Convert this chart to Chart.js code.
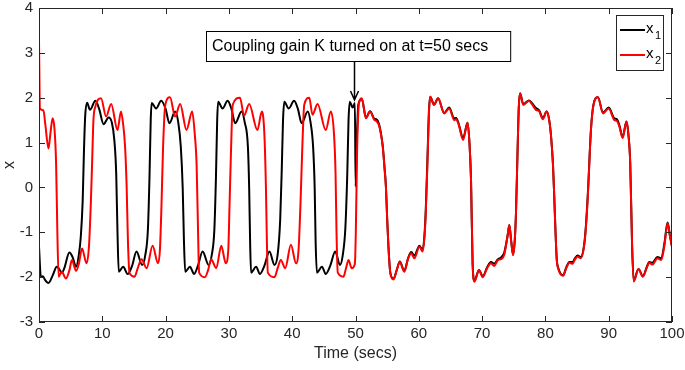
<!DOCTYPE html>
<html>
<head>
<meta charset="utf-8">
<script src="https://cdn.jsdelivr.net/npm/chart.js@4.4.1/dist/chart.umd.min.js"></script>
<style>
html, body { margin: 0; padding: 0; background: #fff; }
#wrap { width: 685px; height: 370px; }
</style>
</head>
<body>
<div id="wrap"><canvas id="chart" width="685" height="370"></canvas></div>
<script>
// time (secs) and state values
var t1 = [0, 0.3, 0.6, 0.9, 1.5, 2.2, 2.8, 3.2, 3.6, 4.0, 4.8, 5.3, 5.85, 6.3, 6.6, 6.9, 7.1, 7.3, 7.6, 8.05, 8.9, 9.5, 10.2, 11.0, 11.5, 11.9, 12.2, 12.4, 12.6,
  13.3, 14.0, 14.7, 15.4, 16.3, 16.8, 17.2, 17.45, 17.65, 17.8, 18.5, 19.3, 20.0, 20.6, 21.5, 22.0, 22.4, 22.7, 22.9, 23.1,
  23.85, 24.5, 25.1, 25.85, 26.8, 27.3, 27.7, 27.95, 28.15, 28.3, 29.0, 29.8, 30.4, 31.0, 32.0, 32.5, 33.0, 33.2, 33.35, 33.5,
  34.3, 34.9, 35.6, 36.4, 37.2, 37.7, 38.1, 38.35, 38.55, 38.75, 39.45, 40.3, 40.9, 41.5, 42.45, 42.9, 43.3, 43.55, 43.7, 43.9,
  44.7, 45.3, 46.0, 46.8, 47.55, 48.0, 48.4, 48.7, 48.9, 49.1, 49.55, 49.9, 50.02, 50.2, 50.45,
  51.0, 51.65, 52.3, 53.0, 53.3, 53.7, 54.0, 54.3, 54.6, 54.8, 55.0, 55.2, 55.5, 56.0, 56.5, 57.0, 57.7, 58.3, 58.8, 59.3, 60.1, 60.6, 60.9,
  61.1, 61.4, 61.6, 61.8, 62.4, 63.05, 64.0, 64.8, 65.6, 65.9, 66.3, 67.0, 67.7, 68.0, 68.25, 68.5, 68.8, 69.5, 70.1, 70.8, 71.4, 71.9,
  72.5, 73.0, 73.5, 74.0, 74.3, 74.6, 74.9, 75.15, 75.35, 75.6, 75.8, 76.0, 76.5, 77.4, 77.9, 78.5, 79.0, 79.6, 80.2, 80.6, 80.9, 81.2,
  81.4, 81.6, 81.8, 82.0, 82.8, 83.3, 83.8, 84.3, 84.7, 85.1, 85.6, 86.1, 86.4, 86.7, 87.2, 87.6, 88.3, 89.1, 90.0, 90.9, 91.3, 91.7,
  92.2, 92.8, 93.1, 93.4, 93.7, 93.95, 94.7, 95.4, 96.0, 96.4, 96.9, 97.7, 98.3, 98.8, 99.3, 99.7, 100];
var x1 = [-1.32, -2.0, -1.98, -2.05, -2.13, -1.95, -1.77, -1.82, -1.9, -1.8, -1.45, -1.55, -1.77, -1.5, -1.1, -0.3, 0.8, 1.6, 1.89, 1.73, 1.93, 1.75, 1.41, 1.56, 1.45, 1.06, 0.3, -1.0, -1.88,
  -1.77, -1.93, -1.75, -1.43, -1.73, -1.5, -0.95, 0.2, 1.5, 1.88, 1.76, 1.93, 1.75, 1.43, 1.69, 1.45, 0.91, 0.0, -1.2, -1.88,
  -1.77, -1.93, -1.75, -1.43, -1.73, -1.5, -0.95, 0.2, 1.5, 1.91, 1.76, 1.93, 1.75, 1.43, 1.69, 1.45, 0.91, 0.0, -1.2, -1.9,
  -1.77, -1.93, -1.75, -1.43, -1.73, -1.5, -0.73, 0.4, 1.5, 1.91, 1.76, 1.93, 1.75, 1.43, 1.69, 1.45, 0.91, 0.0, -1.2, -1.9,
  -1.77, -1.93, -1.75, -1.43, -1.73, -1.5, -0.9, 0.3, 1.5, 1.91, 1.78, 1.88, 0.02, 1.0, 1.85,
  1.97, 1.56, 1.70, 1.53, 1.52, 1.42, 1.22, 0.93, 0.42, 0.04, -0.68, -1.30, -1.90, -2.04, -1.85, -1.65, -1.86, -1.58, -1.44, -1.52, -1.30, -1.40, -1.05,
  -0.5, 0.8, 1.7, 2.02, 1.85, 1.99, 1.66, 1.78, 1.54, 1.55, 1.42, 1.10, 1.44, 1.0, 0.17, -1.69, -2.08, -1.84, -1.98, -1.78, -1.66, -1.70,
  -1.60, -1.56, -1.45, -1.1, -0.84, -1.2, -1.50, -1.2, -0.58, 0.8, 1.8, 2.10, 1.86, 1.94, 1.88, 1.77, 1.72, 1.55, 1.69, 1.5, 1.13, 0.5,
  -0.21, -1.0, -1.62, -1.78, -1.96, -1.78, -1.66, -1.66, -1.57, -1.52, -1.55, -1.30, -0.85, -0.15, 1.3, 1.85, 2.01, 1.67, 1.78, 1.54, 1.52, 1.38,
  1.12, 1.47, 1.2, 0.54, -1.32, -2.08, -1.82, -1.98, -1.78, -1.66, -1.68, -1.55, -1.58, -1.25, -0.78, -1.1, -1.32];

var t2 = [0, 0.15, 0.7, 1.0, 1.5, 1.8, 2.15, 2.45, 2.7, 2.9, 3.1, 3.6, 4.25, 4.8, 5.2, 5.85, 6.3, 6.8, 7.5, 7.9, 8.2, 8.4, 8.6, 8.9, 9.8, 10.6, 11.4, 12.4, 12.95, 13.3, 13.6, 13.85, 14.05, 14.3,
  15.1, 15.6, 16.2, 17.0, 17.95, 18.8, 19.1, 19.35, 19.6, 19.95, 20.7, 21.5, 22.3, 23.3, 24.2, 24.6, 24.9, 25.1, 25.3,
  26.2, 26.7, 27.2, 28.0, 28.8, 29.5, 29.9, 30.1, 30.35, 30.6, 31.75, 32.4, 33.2, 34.5, 35.2, 35.6, 35.85, 36.0, 36.15,
  37.2, 37.7, 38.2, 38.9, 39.8, 40.6, 41.0, 41.3, 41.6, 41.9, 42.7, 43.2, 44.0, 45.3, 46.1, 46.6, 46.85, 47.0, 47.2,
  48.1, 48.5, 48.9, 49.4, 49.9, 50.05, 50.25, 50.45, 50.6,
  51.0, 51.65, 52.3, 53.0, 53.3, 53.7, 54.0, 54.3, 54.6, 54.8, 55.0, 55.2, 55.5, 56.0, 56.5, 57.0, 57.7, 58.3, 58.8, 59.3, 60.1, 60.6, 60.9,
  61.1, 61.4, 61.6, 61.8, 62.4, 63.05, 64.0, 64.8, 65.6, 65.9, 66.3, 67.0, 67.7, 68.0, 68.25, 68.5, 68.8, 69.5, 70.1, 70.8, 71.4, 71.9,
  72.5, 73.0, 73.5, 74.0, 74.3, 74.6, 74.9, 75.15, 75.35, 75.6, 75.8, 76.0, 76.5, 77.4, 77.9, 78.5, 79.0, 79.6, 80.2, 80.6, 80.9, 81.2,
  81.4, 81.6, 81.8, 82.0, 82.8, 83.3, 83.8, 84.3, 84.7, 85.1, 85.6, 86.1, 86.4, 86.7, 87.2, 87.6, 88.3, 89.1, 90.0, 90.9, 91.3, 91.7,
  92.2, 92.8, 93.1, 93.4, 93.7, 93.95, 94.7, 95.4, 96.0, 96.4, 96.9, 97.7, 98.3, 98.8, 99.3, 99.7, 100];
var x2 = [3.29, 1.76, 1.72, 1.4, 0.87, 1.2, 1.54, 1.3, 0.54, -1.0, -1.99, -1.88, -2.03, -1.85, -1.62, -1.86, -1.7, -1.36, -1.69, -1.3, -0.3, 0.6, 1.5, 1.8, 1.99, 1.58, 1.86, 1.28, 1.69, 1.4, 0.9, 0.0, -1.2, -1.91,
  -1.99, -1.8, -1.6, -1.8, -1.3, -1.69, -1.4, -0.4, 0.9, 1.84, 2.01, 1.58, 1.86, 1.28, 1.69, 1.2, 0.5, -0.8, -1.9,
  -2.0, -1.85, -1.6, -1.8, -1.3, -1.69, -1.4, -0.4, 0.9, 1.84, 2.0, 1.6, 1.86, 1.28, 1.69, 1.2, 0.0, -1.2, -1.9,
  -2.0, -1.8, -1.62, -1.8, -1.28, -1.69, -1.4, -0.4, 0.9, 1.84, 2.0, 1.62, 1.86, 1.28, 1.69, 1.2, 0.3, -1.0, -1.9,
  -1.99, -1.8, -1.62, -1.8, -1.7, -1.0, 0.8, 1.7, 1.91,
  1.99, 1.54, 1.69, 1.50, 1.48, 1.39, 1.2, 0.91, 0.4, 0.02, -0.7, -1.32, -1.91, -2.05, -1.85, -1.66, -1.88, -1.6, -1.47, -1.58, -1.32, -1.43, -1.1,
  -0.58, 0.7, 1.65, 2.02, 1.84, 1.99, 1.65, 1.76, 1.5, 1.52, 1.4, 1.06, 1.44, 1.0, 0.17, -1.69, -2.10, -1.84, -2.00, -1.8, -1.69, -1.75,
  -1.62, -1.6, -1.5, -1.1, -0.84, -1.2, -1.51, -1.2, -0.58, 0.8, 1.8, 2.10, 1.84, 1.93, 1.85, 1.73, 1.7, 1.52, 1.69, 1.5, 1.13, 0.5,
  -0.21, -1.0, -1.62, -1.80, -1.97, -1.8, -1.68, -1.7, -1.6, -1.54, -1.58, -1.32, -0.9, -0.21, 1.28, 1.84, 2.01, 1.65, 1.76, 1.5, 1.48, 1.35,
  1.10, 1.47, 1.2, 0.54, -1.32, -2.10, -1.82, -1.99, -1.8, -1.68, -1.72, -1.58, -1.62, -1.3, -0.80, -1.1, -1.32];

var xTicks = [0, 10, 20, 30, 40, 50, 60, 70, 80, 90, 100];
var yTicks = [-3, -2, -1, 0, 1, 2, 3, 4];
var seriesNames = ["x", "x"];
var seriesSubs = ["1", "2"];
var annText = "Coupling gain K turned on at t=50 secs";
var annAt = 50, annTip = 1.95;

var FONT = '"Liberation Sans", Arial, sans-serif';
var AXC = '#262626';

function pts(t, v) { return t.map(function (tt, i) { return { x: tt, y: v[i] }; }); }

// matlab style box, inward ticks, legend and the annotation
var decor = {
  id: 'decor',
  afterDatasetsDraw: function (chart) {
    var ctx = chart.ctx, a = chart.chartArea, sx = chart.scales.x, sy = chart.scales.y;
    ctx.save();
    ctx.strokeStyle = AXC;
    ctx.lineWidth = 1;
    ctx.strokeRect(a.left + 0.5, a.top + 0.5, a.right - a.left - 1, a.bottom - a.top - 1);
    var len = 6;
    ctx.beginPath();
    sx.ticks.forEach(function (tk) {
      var p = Math.round(sx.getPixelForValue(tk.value)) + 0.5;
      ctx.moveTo(p, a.bottom); ctx.lineTo(p, a.bottom - len);
      ctx.moveTo(p, a.top); ctx.lineTo(p, a.top + len);
    });
    sy.ticks.forEach(function (tk) {
      var p = Math.round(sy.getPixelForValue(tk.value)) + 0.5;
      ctx.moveTo(a.left, p); ctx.lineTo(a.left + len, p);
      ctx.moveTo(a.right, p); ctx.lineTo(a.right - len, p);
    });
    ctx.stroke();

    // legend
    var lw = 47, lh = 55, lx = a.right - 9 - lw, ly = a.top + 7;
    ctx.fillStyle = '#fff';
    ctx.fillRect(lx, ly, lw, lh);
    ctx.strokeStyle = AXC;
    ctx.strokeRect(lx + 0.5, ly + 0.5, lw, lh);
    var cols = chart.data.datasets.map(function (d) { return d.borderColor; });
    [0, 1].forEach(function (i) {
      var yy = ly + 15 + i * 25;
      ctx.strokeStyle = cols[i];
      ctx.lineWidth = 2;
      ctx.beginPath(); ctx.moveTo(lx + 4, yy); ctx.lineTo(lx + 29, yy); ctx.stroke();
      ctx.fillStyle = '#000';
      ctx.textBaseline = 'alphabetic';
      ctx.textAlign = 'left';
      ctx.font = '15px ' + FONT;
      ctx.fillText(seriesNames[i], lx + 30, yy + 3);
      ctx.font = '11px ' + FONT;
      ctx.fillText(seriesSubs[i], lx + 39, yy + 9);
    });

    // annotation
    var ax = sx.getPixelForValue(annAt), tipY = sy.getPixelForValue(annTip);
    ctx.font = '16px ' + FONT;
    var tw = ctx.measureText(annText).width;
    var bw = tw + 28, bh = 30, bx = Math.round(ax - 150), by = Math.round(a.top + 23);
    ctx.fillStyle = '#fff';
    ctx.fillRect(bx, by, bw, bh);
    ctx.strokeStyle = '#000';
    ctx.lineWidth = 1;
    ctx.strokeRect(bx + 0.5, by + 0.5, bw, bh);
    ctx.fillStyle = '#000';
    ctx.textAlign = 'left';
    ctx.textBaseline = 'middle';
    ctx.fillText(annText, bx + 6, by + bh / 2 + 1);
    var axp = Math.round(ax) - 1.5;
    ctx.lineWidth = 1.5;
    ctx.beginPath();
    ctx.moveTo(axp, by + bh + 1); ctx.lineTo(axp, tipY);
    ctx.moveTo(axp - 4, tipY - 9); ctx.lineTo(axp, tipY); ctx.lineTo(axp + 4, tipY - 9);
    ctx.stroke();
    ctx.restore();
  }
};

new Chart(document.getElementById('chart').getContext('2d'), {
  type: 'line',
  data: {
    datasets: [
      {
        label: 'x1', data: pts(t1, x1), borderColor: '#000000', borderWidth: 2,
        pointRadius: 0, cubicInterpolationMode: 'monotone', fill: false, order: 1
      },
      {
        label: 'x2', data: pts(t2, x2), borderColor: '#ff0000', borderWidth: 2,
        pointRadius: 0, cubicInterpolationMode: 'monotone', fill: false, order: 0
      }
    ]
  },
  options: {
    responsive: false,
    animation: false,
    devicePixelRatio: 1,
    layout: { padding: { left: 0, right: 13, top: 8, bottom: 0 } },
    plugins: { legend: { display: false }, tooltip: { enabled: false } },
    scales: {
      x: {
        type: 'linear', min: 0, max: 100,
        afterBuildTicks: function (s) { s.ticks = xTicks.map(function (v) { return { value: v }; }); },
        afterFit: function (s) { s.height = 48; s.paddingLeft = 0; s.paddingRight = 0; },
        grid: { display: false, drawTicks: false }, border: { display: false },
        ticks: { color: AXC, font: { family: FONT, size: 15 }, padding: 3, maxRotation: 0 },
        title: { display: true, text: 'Time (secs)', color: AXC, font: { family: FONT, size: 16 }, padding: { top: 0, bottom: 7 } }
      },
      y: {
        type: 'linear', min: -3, max: 4,
        afterBuildTicks: function (s) { s.ticks = yTicks.map(function (v) { return { value: v }; }); },
        afterFit: function (s) { s.width = 39; s.paddingTop = 0; s.paddingBottom = 0; },
        grid: { display: false, drawTicks: false }, border: { display: false },
        ticks: { color: AXC, font: { family: FONT, size: 15 }, padding: 6 },
        title: { display: true, text: 'x', color: AXC, font: { family: FONT, size: 16 }, padding: 0 }
      }
    }
  },
  plugins: [decor]
});
</script>
</body>
</html>
